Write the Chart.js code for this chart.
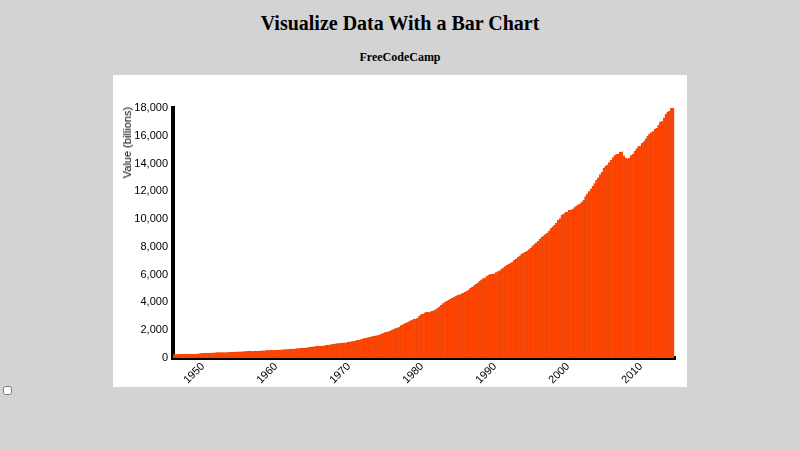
<!DOCTYPE html>
<html>
<head>
<meta charset="utf-8">
<script src="https://cdn.jsdelivr.net/npm/chart.js@4"></script>
<style>
  body { margin: 0; background: #d3d3d3; width: 800px; height: 450px; position: relative; overflow: hidden; }
  h1 { position: absolute; top: 12px; width: 100%; margin: 0; text-align: center; font: bold 20px "Liberation Serif", serif; }
  h2 { position: absolute; top: 50px; width: 100%; margin: 0; text-align: center; font: bold 12px "Liberation Serif", serif; }
  #caja { position: absolute; left: 113px; top: 75px; width: 574px; height: 312px; background: #fff; }
  #titulo-y { position: absolute; left: 121px; top: 107px; font: 11px "Liberation Sans", sans-serif; color: #000;
              transform-origin: 0 0; transform: rotate(-90deg) translateX(-100%); white-space: nowrap; }
  #marca { position: absolute; left: 3px; top: 386px; margin: 0; width: 9px; height: 9px; }
</style>
</head>
<body>
<h1>Visualize Data With a Bar Chart</h1>
<h2>FreeCodeCamp</h2>
<div id="caja"><canvas id="grafico"></canvas></div>
<div id="titulo-y">Value (billions)</div>
<input type="checkbox" id="marca">
<script>
const primerAnio = 1947;
// PIB trimestral (miles de millones), 1947 T1 a 2015 T3
const pib = [
  243.1, 246.3, 250.1, 260.3, 266.2, 272.9, 279.5, 280.7, 275.4, 271.7, 273.3, 271.0,
  281.2, 290.7, 308.5, 320.3, 336.4, 344.5, 351.8, 356.6, 360.2, 361.4, 368.1, 381.2,
  388.5, 392.3, 391.7, 386.5, 385.9, 386.7, 391.6, 400.3, 413.8, 422.2, 430.9, 437.8,
  440.5, 446.8, 452.0, 461.3, 470.6, 472.8, 480.3, 475.7, 468.4, 472.8, 486.7, 500.4,
  511.1, 524.2, 525.2, 529.3, 543.3, 542.7, 546.0, 541.1, 545.9, 557.4, 568.2, 581.6,
  595.2, 602.6, 609.6, 613.1, 622.7, 631.8, 645.0, 654.8, 671.1, 680.8, 692.8, 698.4,
  719.2, 732.4, 750.2, 773.1, 797.3, 807.2, 820.8, 834.9, 846.0, 851.1, 866.6, 883.2,
  911.1, 936.3, 952.3, 970.1, 995.4, 1011.4, 1032.0, 1040.7, 1053.5, 1070.1, 1088.5, 1091.5,
  1137.8, 1159.4, 1180.3, 1193.6, 1233.8, 1270.1, 1293.8, 1332.0, 1380.7, 1417.6, 1436.8, 1479.1,
  1494.7, 1534.2, 1563.4, 1603.0, 1619.6, 1656.4, 1713.8, 1765.9, 1824.5, 1856.9, 1890.5, 1938.4,
  1992.5, 2060.2, 2122.4, 2168.7, 2208.7, 2336.6, 2398.9, 2482.2, 2531.6, 2595.9, 2670.4, 2730.7,
  2796.5, 2799.9, 2860.0, 2993.5, 3131.8, 3167.3, 3261.2, 3283.5, 3273.8, 3331.3, 3367.1, 3407.8,
  3480.3, 3583.8, 3692.3, 3796.1, 3912.8, 4015.0, 4087.4, 4147.6, 4237.0, 4302.3, 4394.6, 4453.1,
  4516.3, 4555.2, 4619.6, 4669.4, 4736.2, 4821.5, 4900.5, 5022.7, 5090.6, 5207.7, 5299.5, 5412.7,
  5527.4, 5628.4, 5711.6, 5763.4, 5890.8, 5974.7, 6029.5, 6023.3, 6054.9, 6143.6, 6218.4, 6279.3,
  6380.8, 6492.3, 6586.5, 6697.6, 6748.2, 6829.6, 6904.2, 7032.8, 7136.3, 7269.8, 7352.3, 7476.7,
  7545.3, 7604.9, 7706.5, 7799.5, 7893.1, 8061.5, 8159.0, 8287.1, 8402.1, 8551.9, 8691.8, 8788.3,
  8889.7, 8994.7, 9146.5, 9325.7, 9447.1, 9557.0, 9712.3, 9926.1, 10031.0, 10278.3, 10357.4, 10472.3,
  10508.1, 10638.4, 10639.5, 10701.3, 10834.4, 10934.8, 11037.1, 11103.8, 11230.1, 11370.7, 11625.1, 11816.8,
  11988.4, 12181.4, 12367.7, 12562.2, 12813.7, 12974.1, 13205.4, 13381.6, 13648.9, 13799.8, 13908.5, 14066.4,
  14233.2, 14422.3, 14569.7, 14685.3, 14668.4, 14813.0, 14843.0, 14549.9, 14383.9, 14340.4, 14384.1, 14566.5,
  14681.1, 14888.6, 15057.7, 15230.2, 15238.4, 15460.9, 15587.1, 15785.3, 15973.9, 16121.9, 16227.9, 16297.3,
  16475.4, 16541.4, 16749.3, 16999.9, 17025.2, 17285.6, 17569.4, 17692.2, 17783.6, 17998.3, 18141.9
];
const ticksY = [0, 2000, 4000, 6000, 8000, 10000, 12000, 14000, 16000, 18000];
const ticksX = [1950, 1960, 1970, 1980, 1990, 2000, 2010];

const puntos = pib.map((v, i) => ({ x: primerAnio + i / 4, y: v }));

new Chart(document.getElementById('grafico'), {
  type: 'bar',
  data: {
    datasets: [{
      data: puntos,
      backgroundColor: '#ff4500',
      borderColor: '#e84000',
      borderWidth: 0.4,
      barPercentage: 1,
      categoryPercentage: 1
    }]
  },
  options: {
    responsive: true,
    maintainAspectRatio: false,
    animation: false,
    layout: { padding: { top: 33, right: 12, left: 0, bottom: 0 } },
    plugins: { legend: { display: false }, tooltip: { enabled: false } },
    scales: {
      x: {
        type: 'linear',
        offset: false,
        min: primerAnio,
        max: 2015.75,
        afterBuildTicks: s => { s.ticks = ticksX.map(v => ({ value: v })); },
        afterFit: s => { s.height = 29; },
        grid: { display: false, drawTicks: false, tickLength: 0 },
        border: { color: '#000', width: 4 },
        ticks: {
          color: '#000', font: { family: 'Liberation Sans', size: 11 }, padding: 2, labelOffset: 8,
          maxRotation: 45, minRotation: 45, autoSkip: false,
          callback: v => String(v)
        }
      },
      y: {
        min: 0,
        max: 18000,
        afterBuildTicks: s => { s.ticks = ticksY.map(v => ({ value: v })); },
        afterFit: s => { s.width = 60; },
        grid: { display: false, drawTicks: false, tickLength: 0 },
        border: { color: '#000', width: 4 },
        ticks: {
          color: '#000', font: { family: 'Liberation Sans', size: 11 }, padding: 5,
          callback: v => v.toLocaleString('en-US')
        }
      }
    }
  }
});
</script>
</body>
</html>
